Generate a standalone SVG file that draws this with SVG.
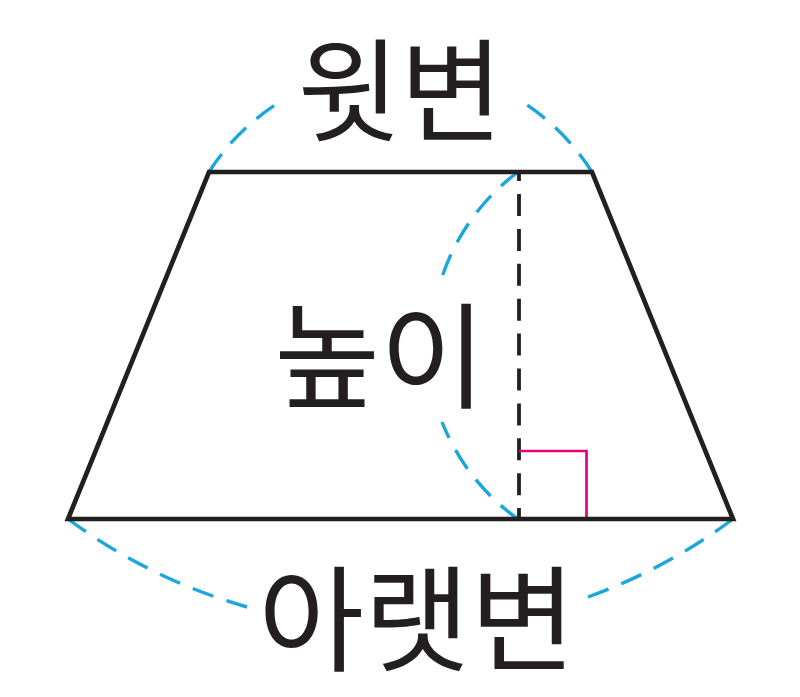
<svg xmlns="http://www.w3.org/2000/svg" width="800" height="697" viewBox="0 0 800 697">
<style>
.edge{fill:none;stroke:#231f20;stroke-width:4.7;stroke-linejoin:miter}
.arc{fill:none;stroke:#1ba7dd;stroke-width:3.4;stroke-dasharray:22 13.8}
.h{fill:none;stroke:#231f20;stroke-width:3.8;stroke-dasharray:22 12.9;stroke-dashoffset:12.9}
.ra{fill:none;stroke:#e4007f;stroke-width:2.7}
.lbl{font-family:"Noto Sans CJK KR","Noto Sans",sans-serif;font-size:115px;fill:#231f20;text-anchor:middle}
</style>
<rect width="800" height="697" fill="#ffffff"/>
<g id="connectors">
<path class="arc" d="M209,172 A227.4,227.4 0 0 1 275,105"/>
<path class="arc" d="M592,172 A227.4,227.4 0 0 0 527,105"/>
<path class="arc" d="M518,172 A216,216 0 0 0 442,277"/>
<path class="arc" d="M518,519 A216,216 0 0 1 442,422"/>
<path class="arc" d="M68,519 A559.5,559.5 0 0 0 247,607"/>
<path class="arc" d="M733,519 A559.5,559.5 0 0 1 588,597"/>
<path class="h" d="M519,172 V519"/>
<path class="ra" d="M519,451 H586.5 V519"/>
</g>
<g id="trapezoid">
<polygon class="edge" points="209,172 592,172 733,519 68,519"/>
</g>
<g id="label-top"><text class="lbl" x="400" y="133" style="font-size:112px">윗변</text></g>
<g id="label-height"><text class="lbl" x="380" y="399">높이</text></g>
<g id="label-bottom"><text class="lbl" x="417" y="662">아랫변</text></g>
</svg>
